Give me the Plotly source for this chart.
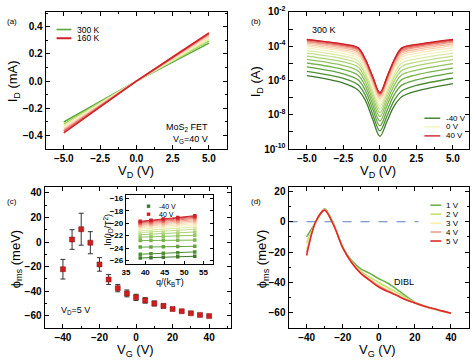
import plotly.graph_objects as go

W, H = 474, 363
def px(x): return x / W
def py(y): return 1 - y / H

FONT = "Liberation Sans, Arial, sans-serif"

# ---------------- (a) I-V at VG = 40 V for several temperatures ----------------
vd_a = [-5.0, -2.5, 0.0, 2.5, 5.0]
temps_a = ["300 K", "280 K", "260 K", "240 K", "220 K", "200 K", "180 K", "160 K"]
id_300K = [-0.300, -0.150, 0.0, 0.140, 0.280]
id_280K = [-0.315, -0.158, 0.0, 0.148, 0.295]
id_260K = [-0.327, -0.164, 0.0, 0.154, 0.308]
id_240K = [-0.338, -0.170, 0.0, 0.160, 0.320]
id_220K = [-0.348, -0.175, 0.0, 0.165, 0.330]
id_200K = [-0.358, -0.180, 0.0, 0.170, 0.340]
id_180K = [-0.368, -0.185, 0.0, 0.174, 0.348]
id_160K = [-0.380, -0.190, 0.0, 0.178, 0.355]
curves_a = [id_300K, id_280K, id_260K, id_240K, id_220K, id_200K, id_180K, id_160K]
colors_a = ["#5aa83a", "#a9d46c", "#dfee9e", "#f8f2bc", "#f9d8bd", "#f3ae9c", "#e56b68", "#d02228"]

# ---------------- (b) log I-V for gate voltages -40 ... 40 V ----------------
vd_b = [-5, -2.5, -1.5, -1, -0.5, 0, 0.5, 1, 1.5, 2.5, 5]
gates = [-40, -35, -30, -25, -20, -15, -10, -5, 0, 5, 10, 15, 20, 25, 30, 35, 40]
logid_m40 = [-5.72, -6.15, -6.55, -7.15, -8.25, -9.25, -8.35, -7.45, -6.95, -6.62, -6.18]
logid_m35 = [-5.47, -5.88, -6.25, -6.86, -7.95, -8.94, -8.04, -7.13, -6.61, -6.29, -5.87]
logid_m30 = [-5.21, -5.61, -5.96, -6.57, -7.65, -8.64, -7.73, -6.80, -6.27, -5.97, -5.56]
logid_m25 = [-4.98, -5.36, -5.69, -6.31, -7.38, -8.36, -7.44, -6.51, -5.95, -5.67, -5.28]
logid_m20 = [-4.77, -5.13, -5.44, -6.07, -7.13, -8.10, -7.18, -6.24, -5.67, -5.40, -5.02]
logid_m15 = [-4.58, -4.92, -5.22, -5.85, -6.90, -7.87, -6.95, -5.99, -5.41, -5.15, -4.79]
logid_m10 = [-4.41, -4.74, -5.02, -5.66, -6.70, -7.67, -6.74, -5.78, -5.18, -4.93, -4.58]
logid_m05 = [-4.26, -4.58, -4.85, -5.49, -6.53, -7.49, -6.56, -5.59, -4.98, -4.74, -4.40]
logid_p00 = [-4.12, -4.44, -4.69, -5.34, -6.36, -7.33, -6.39, -5.41, -4.80, -4.57, -4.23]
logid_p05 = [-4.00, -4.31, -4.55, -5.21, -6.23, -7.18, -6.24, -5.26, -4.64, -4.42, -4.09]
logid_p10 = [-3.91, -4.21, -4.44, -5.10, -6.11, -7.07, -6.13, -5.14, -4.51, -4.29, -3.97]
logid_p15 = [-3.82, -4.12, -4.34, -5.00, -6.01, -6.97, -6.02, -5.03, -4.40, -4.19, -3.87]
logid_p20 = [-3.75, -4.04, -4.25, -4.92, -5.93, -6.88, -5.93, -4.94, -4.30, -4.09, -3.78]
logid_p25 = [-3.70, -3.98, -4.19, -4.86, -5.86, -6.82, -5.87, -4.87, -4.23, -4.02, -3.72]
logid_p30 = [-3.65, -3.94, -4.14, -4.81, -5.81, -6.76, -5.82, -4.82, -4.17, -3.97, -3.66]
logid_p35 = [-3.62, -3.90, -4.11, -4.77, -5.78, -6.73, -5.78, -4.78, -4.13, -3.93, -3.63]
logid_p40 = [-3.60, -3.88, -4.08, -4.75, -5.75, -6.70, -5.75, -4.75, -4.10, -3.90, -3.60]
curves_b = [logid_m40, logid_m35, logid_m30, logid_m25, logid_m20, logid_m15, logid_m10, logid_m05,
            logid_p00, logid_p05, logid_p10, logid_p15, logid_p20, logid_p25, logid_p30, logid_p35, logid_p40]
colors_g = ["#3d7a2a", "#4f8f35", "#62a340", "#79b44e", "#92c460", "#abd276", "#c4df8e", "#dbeaa8",
            "#f2f4bf", "#fbe8c0", "#f9d3b0", "#f6bba0", "#f2a08c", "#ec8275", "#e4625c", "#da4242", "#cc2228"]
logI_ticks = [-10, -9, -8, -7, -6, -5, -4, -3, -2]
logI_ticktext = ["10<sup>-10</sup>", "", "10<sup>-8</sup>", "", "10<sup>-6</sup>", "",
                 "10<sup>-4</sup>", "", "10<sup>-2</sup>"]

# ---------------- (c) phi_ms vs VG at VD = 5 V ----------------
vg_c = [-40, -35, -30, -25, -20, -15, -10, -5, 0, 5, 10, 15, 20, 25, 30, 35, 40]
phi_c = [-22.1, 2.1, 10.5, -0.5, -18.2, -30.5, -37.5, -41.8, -45.0, -47.5, -50.0, -52.0, -54.5, -56.3, -58.0, -59.3, -60.3]
err_c = [8.0, 8.0, 13.0, 9.0, 5.5, 4.0, 3.0, 2.8, 2.5, 2.2, 2.0, 1.6, 1.2, 1.0, 1.0, 0.8, 0.8]

# inset: ln(I/T^2) vs q/kT
qkt = [38.68, 41.45, 44.63, 48.35, 52.74]
ln_m40 = [-25.60, -25.55, -25.50, -25.42, -25.32]
ln_m35 = [-25.00, -24.93, -24.85, -24.75, -24.62]
ln_m30 = [-23.85, -23.83, -23.80, -23.76, -23.72]
ln_m25 = [-22.80, -22.78, -22.76, -22.74, -22.72]
ln_m20 = [-22.25, -22.20, -22.13, -22.05, -21.95]
ln_m15 = [-21.85, -21.77, -21.67, -21.56, -21.42]
ln_m10 = [-21.50, -21.40, -21.28, -21.15, -20.98]
ln_m05 = [-21.20, -21.09, -20.96, -20.82, -20.62]
ln_p00 = [-20.95, -20.83, -20.69, -20.53, -20.32]
ln_p05 = [-20.75, -20.62, -20.47, -20.30, -20.08]
ln_p10 = [-20.55, -20.41, -20.25, -20.07, -19.84]
ln_p15 = [-20.38, -20.23, -20.06, -19.87, -19.63]
ln_p20 = [-20.22, -20.06, -19.88, -19.68, -19.43]
ln_p25 = [-20.06, -19.89, -19.70, -19.49, -19.23]
ln_p30 = [-19.92, -19.75, -19.55, -19.33, -19.06]
ln_p35 = [-19.80, -19.62, -19.42, -19.19, -18.91]
ln_p40 = [-19.70, -19.52, -19.31, -19.08, -18.80]
curves_in = [ln_m40, ln_m35, ln_m30, ln_m25, ln_m20, ln_m15, ln_m10, ln_m05, ln_p00,
             ln_p05, ln_p10, ln_p15, ln_p20, ln_p25, ln_p30, ln_p35, ln_p40]

# ---------------- (d) phi_ms vs VG for VD = 1..5 V ----------------
vg_d = [-40, -35, -30, -25, -20, -15, -10, -5, 0, 5, 10, 15, 20, 25, 30, 35, 40]
phi_1V = [-10.0, -0.5, 8.5, -1.5, -17.0, -25.5, -31.0, -34.0, -37.5, -40.5, -44.5, -49.0, -53.0, -55.5, -57.3, -58.8, -60.3]
phi_2V = [-14.0, -0.8, 8.2, -2.0, -17.0, -26.5, -32.5, -36.5, -40.0, -43.5, -46.5, -50.0, -53.3, -55.6, -57.4, -58.9, -60.5]
phi_3V = [-18.0, -0.3, 8.0, -2.0, -17.0, -26.8, -33.5, -37.8, -41.5, -45.0, -48.0, -51.0, -53.5, -55.7, -57.5, -59.0, -60.8]
phi_4V = [-20.0, 0.0, 7.8, -2.2, -17.0, -27.0, -33.8, -38.3, -42.3, -45.5, -48.3, -51.2, -53.5, -55.6, -57.3, -58.8, -60.3]
phi_5V = [-22.2, 0.0, 7.7, -2.3, -17.0, -27.0, -34.0, -38.6, -43.0, -46.0, -48.6, -51.4, -53.5, -55.5, -57.2, -58.7, -60.2]
labels_d = ["1 V", "2 V", "3 V", "4 V", "5 V"]
curves_d = [phi_1V, phi_2V, phi_3V, phi_4V, phi_5V]
colors_d = ["#6cb24a", "#c6e06a", "#f6f2a8", "#f0a08c", "#e02a2a"]
zero_vg = [-50, 22]
zero_phi = [0, 0]

fig = go.Figure()

for lab, ys, c in zip(temps_a, curves_a, colors_a):
    fig.add_trace(go.Scatter(x=vd_a, y=ys, mode="lines", line=dict(color=c, width=1.6),
                             name=lab, xaxis="x", yaxis="y", showlegend=False))

for g, ys, c in zip(gates, curves_b, colors_g):
    fig.add_trace(go.Scatter(x=vd_b, y=[10 ** v for v in ys], mode="lines",
                             line=dict(color=c, width=1.3, shape="spline", smoothing=1.0),
                             name=f"{g} V", xaxis="x2", yaxis="y2", showlegend=False))

fig.add_trace(go.Scatter(x=vg_c, y=phi_c, mode="markers",
                         marker=dict(symbol="square", size=5, color="#d41c1c", line=dict(color="#7a1010", width=0.5)),
                         error_y=dict(type="data", array=err_c, color="#333333", thickness=1, width=2.5),
                         xaxis="x3", yaxis="y3", showlegend=False))

for g, ys, c in zip(gates, curves_in, colors_g):
    fig.add_trace(go.Scatter(x=qkt, y=ys, mode="lines+markers", line=dict(color=c, width=1),
                             marker=dict(symbol="square", size=3.5, color=c),
                             xaxis="x5", yaxis="y5", showlegend=False))

fig.add_trace(go.Scatter(x=zero_vg, y=zero_phi, mode="lines", line=dict(color="#5b7fc0", width=1.2, dash="dash"),
                         xaxis="x4", yaxis="y4", showlegend=False))
for lab, ys, c in zip(labels_d, curves_d, colors_d):
    fig.add_trace(go.Scatter(x=vg_d, y=ys, mode="lines", line=dict(color=c, width=1.6, shape="spline", smoothing=0.8),
                             name=lab, xaxis="x4", yaxis="y4", showlegend=False))

tickfont = dict(family=FONT, size=10, color="black", weight="bold")
common = dict(showline=True, linecolor="black", linewidth=1.2, mirror="ticks", ticks="inside",
              ticklen=4, tickwidth=1, tickcolor="black", showgrid=False, zeroline=False, tickfont=tickfont)

def minor(d):
    return dict(ticks="inside", ticklen=2, tickcolor="black", dtick=d, showgrid=False)

yA = [py(147), py(5)]
yC = [py(332), py(186)]
fig.update_layout(
    width=W, height=H, margin=dict(l=0, r=0, t=0, b=0),
    paper_bgcolor="white", plot_bgcolor="white", showlegend=False,
    xaxis=dict(domain=[px(42), px(225)], anchor="y", range=[-6.25, 6.25], dtick=2.5, tick0=0,
               tickformat=".1f", minor=minor(1.25), **common),
    yaxis=dict(domain=yA, anchor="x", range=[-0.5, 0.51], dtick=0.2, tick0=0, tickformat=".1f",
               minor=minor(0.1), **common),
    xaxis2=dict(domain=[px(287), px(469)], anchor="y2", range=[-6.25, 6.1], dtick=2.5, tick0=0,
                tickformat=".1f", minor=minor(1.25), **common),
    yaxis2=dict(domain=yA, anchor="x2", type="log", range=[-10.001, -1.999], ticklabeloverflow="allow",
                tickvals=[10.0 ** k for k in logI_ticks], ticktext=logI_ticktext, **common),
    xaxis3=dict(domain=[px(41), px(229)], anchor="y3", range=[-50, 52], dtick=20, tick0=0,
                minor=minor(10), **common),
    yaxis3=dict(domain=yC, anchor="x3", range=[-70, 45], dtick=20, tick0=0, minor=minor(10), **common),
    xaxis4=dict(domain=[px(287), px(469)], anchor="y4", range=[-50, 50], dtick=20, tick0=0,
                minor=minor(10), **common),
    yaxis4=dict(domain=yC, anchor="x4", range=[-70, 23], dtick=20, tick0=0, minor=minor(10), **common),
)
inset_common = dict(common)
inset_common["tickfont"] = dict(family=FONT, size=8, color="black", weight="bold")
inset_common["ticklen"] = 3
fig.update_layout(
    xaxis5=dict(domain=[px(123), px(211)], anchor="y5", range=[35, 57.5], dtick=5, tick0=0, **inset_common),
    yaxis5=dict(domain=[py(266), py(194)], anchor="x5", range=[-26.6, -15.4], dtick=2, tick0=0, **inset_common),
)

ann = []
def text(x, y, s, size=9, xanchor="center", angle=0, xref="paper", yref="paper"):
    ann.append(dict(x=x, y=y, text=s, showarrow=False, xref=xref, yref=yref, xanchor=xanchor,
                    yanchor="middle", textangle=angle, font=dict(family=FONT, size=size, color="black")))

# axis titles
text(px(10), py(77), "I<sub>D</sub> (mA)", 13, angle=-90)
text(px(133), py(170), "V<sub>D</sub> (V)", 13)
text(px(255), py(77), "I<sub>D</sub> (A)", 13, angle=-90)
text(px(377), py(170), "V<sub>D</sub> (V)", 13)
text(px(12), py(261), "ϕ<sub>ms</sub> (meV)", 13, angle=-90)
text(px(133), py(355), "V<sub>G</sub> (V)", 13)
text(px(261), py(261), "ϕ<sub>ms</sub> (meV)", 13, angle=-90)
text(px(377), py(355), "V<sub>G</sub> (V)", 13)
text(px(105), py(230), "ln(I<sub>D</sub>/T<sup>2</sup>)", 9, angle=-90)
text(px(167), py(285), "q/(k<sub>B</sub>T)", 9)
# panel labels
text(px(8), py(15), "(a)", 8)
text(px(254), py(15), "(b)", 8)
text(px(8), py(201), "(c)", 8)
text(px(254), py(201), "(d)", 8)
# in-plot texts
text(px(208), py(125), "MoS<sub>2</sub> FET", 9, xanchor="right")
text(px(208), py(137), "V<sub>G</sub>=40 V", 9, xanchor="right")
text(px(309), py(24), "300 K", 9, xanchor="left")
text(px(55), py(314), "V<sub>D</sub>=5 V", 9, xanchor="left")
text(px(403), py(284), "DIBL", 9)

shapes = []
def legline(x0, x1, y, color, width=1.6):
    shapes.append(dict(type="line", xref="paper", yref="paper", x0=px(x0), x1=px(x1), y0=py(y), y1=py(y),
                       line=dict(color=color, width=width)))

# legend (a)
legline(53, 68, 23.3, colors_a[0]); text(px(72), py(23.3), temps_a[0], 8.5, xanchor="left")
legline(53, 68, 32.3, colors_a[-1], 2); text(px(72), py(32.3), temps_a[-1], 8.5, xanchor="left")
# legend (b)
for yy, idx in [(115, 0), (124, 8), (133.3, 16)]:
    legline(424, 440, yy, colors_g[idx], 1.4)
    text(px(444), py(yy), f"{gates[idx]} V", 8, xanchor="left")
# legend (d)
for i, yy in enumerate([205, 214.3, 223.7, 232.7, 242]):
    legline(430, 441, yy, colors_d[i], 1.6)
    text(px(444), py(yy), labels_d[i], 8, xanchor="left")
# inset legend
for yy, idx in [(206, 0), (214.3, 16)]:
    shapes.append(dict(type="rect", xref="paper", yref="paper", x0=px(144), x1=px(147.5),
                       y0=py(yy + 1.75), y1=py(yy - 1.75), fillcolor=colors_g[idx], line=dict(width=0)))
    text(px(154), py(yy), f"{gates[idx]} V", 7, xanchor="left")

fig.update_layout(annotations=ann, shapes=shapes)
fig.write_html("out.html", config={"displayModeBar": False},
               post_script="document.body.style.margin='0';document.body.style.overflow='hidden';")
